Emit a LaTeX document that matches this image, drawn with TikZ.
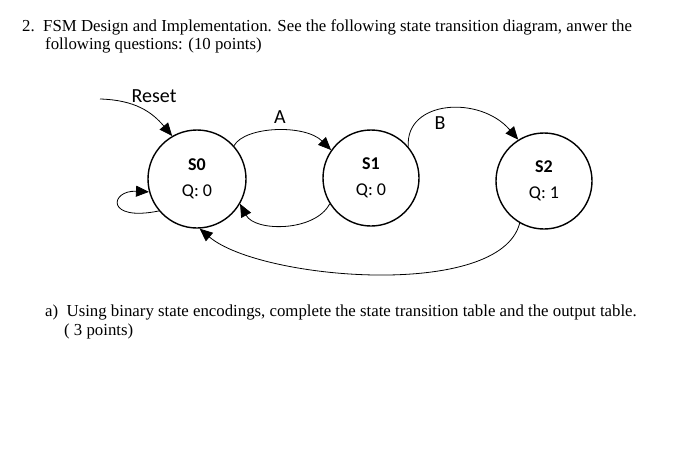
\documentclass[tikz,border=0pt]{standalone}
\usepackage{fontspec}
\setmainfont{Liberation Serif}
\newfontfamily\diag{Carlito}
\usetikzlibrary{arrows.meta}
\begin{document}
\begin{tikzpicture}[x=1pt,y=-1pt,
  st/.style={circle,draw,line width=1.4pt,minimum size=98pt,inner sep=0pt,align=center,font=\diag\fontsize{18}{26}\selectfont},
  tr/.style={draw,line width=0.8pt,-{Triangle[length=13pt,width=11pt]}},
  lb/.style={font=\diag\fontsize{20}{22}\selectfont},
  tx/.style={anchor=west,inner sep=0pt,font=\fontsize{16.8}{20}\selectfont}]
\useasboundingbox[fill=white] (0,0) rectangle (700,455);
\node[tx] (t1) at (22,27) {2.\ \ FSM Design and Implementation. See the following state transition diagram, anwer the};
\node[tx] (t2) at (45,45) {following questions: (10 points)};
\node[tx] (q1) at (45,312) {a)\ \ Using binary state encodings, complete the state transition table and the output table.};
\node[tx] (q2) at (64,331) {( 3 points)};
\node[st] (s0) at (197,179) {\textbf{S0}\\Q: 0};
\node[st,minimum size=96pt] (s1) at (371,178) {\textbf{S1}\\Q: 0};
\node[st,minimum size=96pt] (s2) at (544,181) {\textbf{S2}\\Q: 1};
\coordinate (rs) at (100,99);
\node[lb] (rl) at (154,96) {Reset};
\node[lb] (al) at (280,117) {A};
\node[lb] (bl) at (440,123) {B};
\draw[tr] (rs) .. controls (135,100) and (152,112) .. (s0.120);
\draw[tr] (s0.42) .. controls (245,126) and (305,124) .. (s1.145);
\draw[tr] (s1.212) .. controls (315,232) and (255,232) .. (s0.-30);
\draw[tr] (s1.40) .. controls (405,100) and (480,95) .. (s2.122);
\draw[tr] (s2.-120) .. controls (500,300) and (260,280) .. (s0.-87);
\draw[tr] (s0.-140) .. controls (105,222) and (110,190) .. (s0.195);
\end{tikzpicture}
\end{document}
